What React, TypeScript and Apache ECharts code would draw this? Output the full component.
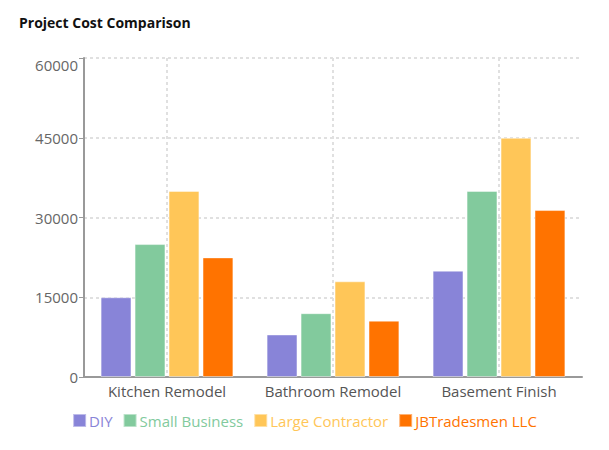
import React, { useEffect, useRef } from "react";
import * as echarts from "echarts";

const categories = ["Kitchen Remodel", "Bathroom Remodel", "Basement Finish"];
const seriesNames = ["DIY", "Small Business", "Large Contractor", "JBTradesmen LLC"];
const diy = [15000, 8000, 20000];
const smallBusiness = [25000, 12000, 35000];
const largeContractor = [35000, 18000, 45000];
const jbTradesmen = [22500, 10600, 31400];
const colors = ["#8884d8", "#82ca9d", "#ffc658", "#ff7300"];
const yTicks = { min: 0, max: 60000, interval: 15000 };

const FONT = "'Open Sans', 'Noto Sans', sans-serif";

export default function App() {
  const ref = useRef<HTMLDivElement>(null);
  useEffect(() => {
    document.body.style.margin = "0";
    if (!ref.current) return;
    const chart = echarts.init(ref.current, undefined, { renderer: "svg" });
    const values = [diy, smallBusiness, largeContractor, jbTradesmen];
    chart.setOption({
      animation: false,
      textStyle: { fontFamily: FONT },
      title: {
        text: "Project Cost Comparison",
        left: 14,
        top: 10,
        textStyle: { fontSize: 14, fontWeight: "bold", color: "#111", fontFamily: FONT },
      },
      legend: {
        bottom: 17,
        left: "center",
        icon: "rect",
        itemWidth: 13,
        itemHeight: 13,
        itemGap: 10,
        data: seriesNames.map((n, i) => ({ name: n, textStyle: { color: colors[i] } })),
        textStyle: { fontSize: 15, fontFamily: FONT, padding: [0, 0, 0, -2] },
      },
      grid: { left: 84, right: 27, top: 58, bottom: 73, containLabel: false },
      xAxis: {
        type: "category",
        data: categories,
        axisLine: { lineStyle: { color: "#999", width: 2 } },
        axisTick: { alignWithLabel: true, interval: 0, lineStyle: { color: "#999" } },
        axisLabel: { color: "#555", fontSize: 15, margin: 6, interval: 0, hideOverlap: false, fontFamily: FONT },
        splitLine: {
          show: true,
          interval: 0,
          alignWithLabel: true,
          lineStyle: { color: "#e0e0e0", type: [3, 3], width: 2 },
        },
      },
      yAxis: {
        type: "value",
        min: yTicks.min,
        max: yTicks.max,
        interval: yTicks.interval,
        axisLine: { show: true, lineStyle: { color: "#999", width: 2 } },
        axisTick: { show: true, length: 5, lineStyle: { color: "#999" } },
        axisLabel: {
          color: "#666",
          fontSize: 15,
          margin: 6,
          fontFamily: FONT,
          formatter: (v: number) => (v === yTicks.max ? `{top|${v}}` : String(v)),
          rich: {
            top: { color: "#666", fontSize: 15, fontFamily: FONT, padding: [14, 0, 0, 0] },
          },
        },
        splitLine: { lineStyle: { color: "#e0e0e0", type: [3, 3], width: 2 } },
      },
      series: seriesNames.map((n, i) => ({
        name: n,
        type: "bar",
        data: values[i],
        barCategoryGap: "20%",
        barGap: "10%",
        itemStyle: {
          color: colors[i],
          borderColor: "rgba(255,255,255,0.45)",
          borderWidth: 1,
        },
      })),
    });
    return () => chart.dispose();
  }, []);
  return <div ref={ref} style={{ width: 609, height: 450 }} />;
}
